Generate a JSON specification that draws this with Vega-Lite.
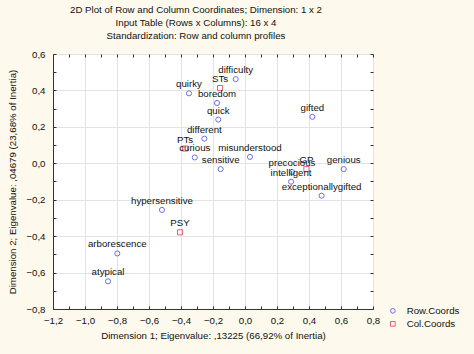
{
  "$schema": "https://vega.github.io/schema/vega-lite/v6.json",
  "width": 320,
  "height": 255,
  "autosize": {"type": "none"},
  "padding": {"left": 53, "top": 54, "right": 101, "bottom": 45},
  "background": "#fdf9ec",
  "title": {
    "text": ["2D Plot of Row and Column Coordinates; Dimension:  1 x  2", "Input Table (Rows x Columns): 16 x 4", "Standardization: Row and column profiles"],
    "anchor": "middle",
    "frame": "group",
    "dx": -17,
    "offset": 8,
    "font": "Liberation Sans",
    "fontSize": 9.7,
    "fontWeight": "normal",
    "lineHeight": 13,
    "color": "#111"
  },
  "config": {
    "view": {"stroke": "#333", "strokeWidth": 1, "fill": "white"},
    "font": "Liberation Sans",
    "axis": {
      "labelFont": "Liberation Sans",
      "labelFontSize": 9.7,
      "labelColor": "#111",
      "titleFont": "Liberation Sans",
      "titleFontSize": 9.7,
      "titleFontWeight": "normal",
      "titleColor": "#111",
      "domainColor": "#333",
      "tickColor": "#333",
      "gridColor": "#e3e3e3",
      "labelOverlap": false,
      "labelFlush": false
    },
    "legend": {
      "labelFont": "Liberation Sans",
      "labelFontSize": 9.7,
      "labelColor": "#111"
    }
  },
  "data": {
    "values": [
      {"name": "difficulty", "x": -0.058, "y": 0.462, "type": "Row.Coords"},
      {"name": "quirky", "x": -0.35, "y": 0.384, "type": "Row.Coords"},
      {"name": "boredom", "x": -0.175, "y": 0.331, "type": "Row.Coords"},
      {"name": "quick", "x": -0.167, "y": 0.24, "type": "Row.Coords"},
      {"name": "gifted", "x": 0.421, "y": 0.255, "type": "Row.Coords"},
      {"name": "different", "x": -0.254, "y": 0.135, "type": "Row.Coords"},
      {"name": "curious", "x": -0.314, "y": 0.032, "type": "Row.Coords"},
      {"name": "misunderstood", "x": 0.031, "y": 0.035, "type": "Row.Coords"},
      {"name": "sensitive", "x": -0.152, "y": -0.032, "type": "Row.Coords"},
      {"name": "precocious", "x": 0.294, "y": -0.048, "type": "Row.Coords"},
      {"name": "intelligent", "x": 0.288, "y": -0.101, "type": "Row.Coords"},
      {"name": "genious", "x": 0.617, "y": -0.032, "type": "Row.Coords"},
      {"name": "exceptionallygifted", "x": 0.479, "y": -0.178, "type": "Row.Coords"},
      {"name": "hypersensitive", "x": -0.519, "y": -0.256, "type": "Row.Coords"},
      {"name": "arborescence", "x": -0.798, "y": -0.495, "type": "Row.Coords"},
      {"name": "atypical", "x": -0.856, "y": -0.648, "type": "Row.Coords"},
      {"name": "STs", "x": -0.156, "y": 0.413, "type": "Col.Coords"},
      {"name": "PTs", "x": -0.375, "y": 0.081, "type": "Col.Coords"},
      {"name": "GP", "x": 0.384, "y": -0.032, "type": "Col.Coords"},
      {"name": "PSY", "x": -0.406, "y": -0.379, "type": "Col.Coords"}
    ]
  },
  "layer": [
    {
      "mark": {"type": "point", "filled": false, "strokeWidth": 1, "opacity": 1, "size": 26},
      "encoding": {
        "x": {
          "field": "x", "type": "quantitative",
          "scale": {"domain": [-1.2, 0.8], "nice": false, "zero": false},
          "axis": {
            "orient": "bottom",
            "title": "Dimension 1; Eigenvalue: ,13225 (66,92% of Inertia)",
            "values": [-1.2, -1.1, -1.0, -0.9, -0.8, -0.7, -0.6, -0.5, -0.4, -0.3, -0.2, -0.1, 0, 0.1, 0.2, 0.3, 0.4, 0.5, 0.6, 0.7, 0.8],
            "labelExpr": "abs(round(datum.value*10)) % 2 == 0 ? replace(format(datum.value, '.1f'), '.', ',') : ''",
            "tickSize": -3,
            "labelPadding": 9,
            "titlePadding": 6,
            "gridOpacity": {"condition": {"test": "abs(round(datum.value*10)) % 2 == 0", "value": 1}, "value": 0}
          }
        },
        "y": {
          "field": "y", "type": "quantitative",
          "scale": {"domain": [-0.8, 0.6], "nice": false, "zero": false},
          "axis": {
            "orient": "left",
            "title": "Dimension 2; Eigenvalue: ,04679 (23,68% of Inertia)",
            "values": [-0.8, -0.7, -0.6, -0.5, -0.4, -0.3, -0.2, -0.1, 0, 0.1, 0.2, 0.3, 0.4, 0.5, 0.6],
            "labelExpr": "abs(round(datum.value*10)) % 2 == 0 ? replace(format(datum.value, '.1f'), '.', ',') : ''",
            "tickSize": -3,
            "labelPadding": 11,
            "titlePadding": 8,
            "gridOpacity": {"condition": {"test": "abs(round(datum.value*10)) % 2 == 0", "value": 1}, "value": 0}
          }
        },
        "color": {
          "field": "type", "type": "nominal",
          "scale": {"domain": ["Row.Coords", "Col.Coords"], "range": ["#6f6fe0", "#e0607e"]},
          "legend": {
            "title": null,
            "orient": "none",
            "legendX": 335,
            "legendY": 252,
            "symbolStrokeWidth": 1,
            "symbolSize": 22,
            "rowPadding": 2,
            "labelOffset": 9
          }
        },
        "shape": {
          "field": "type", "type": "nominal",
          "scale": {"domain": ["Row.Coords", "Col.Coords"], "range": ["circle", "square"]}
        }
      }
    },
    {
      "mark": {"type": "text", "align": "center", "baseline": "middle", "dy": -9, "font": "Liberation Sans", "fontSize": 9.7, "color": "#111"},
      "encoding": {
        "x": {
          "field": "x", "type": "quantitative",
          "axis": {
            "orient": "top", "title": null, "labels": false, "grid": false, "domain": false,
            "values": [-1.2, -1.1, -1.0, -0.9, -0.8, -0.7, -0.6, -0.5, -0.4, -0.3, -0.2, -0.1, 0, 0.1, 0.2, 0.3, 0.4, 0.5, 0.6, 0.7, 0.8],
            "tickSize": -3
          }
        },
        "y": {
          "field": "y", "type": "quantitative",
          "axis": {
            "orient": "right", "title": null, "labels": false, "grid": false, "domain": false,
            "values": [-0.8, -0.7, -0.6, -0.5, -0.4, -0.3, -0.2, -0.1, 0, 0.1, 0.2, 0.3, 0.4, 0.5, 0.6],
            "tickSize": -3
          }
        },
        "text": {"field": "name"}
      }
    }
  ],
  "resolve": {"axis": {"x": "independent", "y": "independent"}}
}
